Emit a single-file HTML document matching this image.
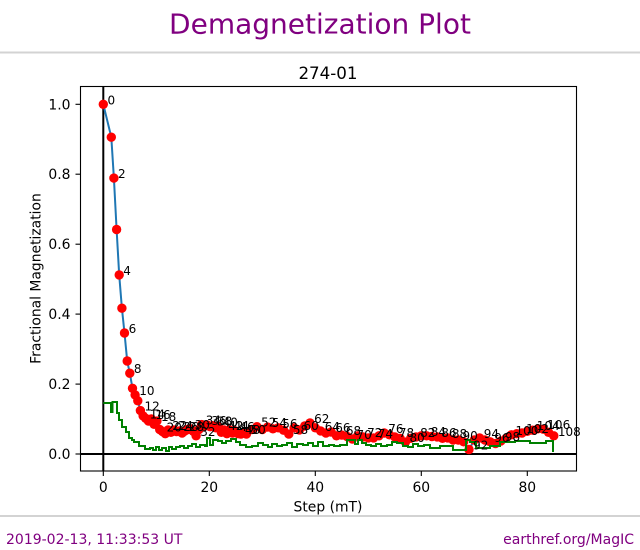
<!DOCTYPE html>
<html><head><meta charset="utf-8"><style>
html,body{margin:0;padding:0;background:#fff;width:640px;height:550px;overflow:hidden}
svg{display:block}
text{font-family:"DejaVu Sans","Liberation Sans",sans-serif}
</style></head><body>
<svg width="640" height="550" viewBox="0 0 640 550" xmlns="http://www.w3.org/2000/svg">
<rect x="0" y="0" width="640" height="550" fill="#fff"/>
<text x="320" y="33.5" font-size="28" fill="#800080" text-anchor="middle">Demagnetization Plot</text>
<rect x="0" y="51.5" width="640" height="2" fill="#d3d3d3"/>
<rect x="0" y="515" width="640" height="2" fill="#d3d3d3"/>
<text x="6" y="544" font-size="14" fill="#800080">2019-02-13, 11:33:53 UT</text>
<text x="634" y="544" font-size="14" fill="#800080" text-anchor="end">earthref.org/MagIC</text>

<text x="328" y="79" font-size="16.7" fill="#000" text-anchor="middle">274-01</text>

<!-- axes frame -->
<rect x="80.5" y="86.5" width="496" height="384.5" fill="none" stroke="#000" stroke-width="1.1"/>
<!-- zero lines -->
<line x1="103.3" y1="86.5" x2="103.3" y2="471" stroke="#000" stroke-width="2"/>
<line x1="80.5" y1="454" x2="576.5" y2="454" stroke="#000" stroke-width="2"/>

<!-- ticks -->
<g stroke="#000" stroke-width="1.1">
<line x1="75.5" y1="454" x2="80.5" y2="454"/>
<line x1="75.5" y1="384.1" x2="80.5" y2="384.1"/>
<line x1="75.5" y1="314.1" x2="80.5" y2="314.1"/>
<line x1="75.5" y1="244.2" x2="80.5" y2="244.2"/>
<line x1="75.5" y1="174.2" x2="80.5" y2="174.2"/>
<line x1="75.5" y1="104.3" x2="80.5" y2="104.3"/>
<line x1="103.3" y1="471" x2="103.3" y2="476"/>
<line x1="209.3" y1="471" x2="209.3" y2="476"/>
<line x1="315.3" y1="471" x2="315.3" y2="476"/>
<line x1="421.3" y1="471" x2="421.3" y2="476"/>
<line x1="527.3" y1="471" x2="527.3" y2="476"/>
</g>
<g font-size="13.9" fill="#000" text-anchor="end">
<text x="70.5" y="459">0.0</text>
<text x="70.5" y="389.1">0.2</text>
<text x="70.5" y="319.1">0.4</text>
<text x="70.5" y="249.2">0.6</text>
<text x="70.5" y="179.2">0.8</text>
<text x="70.5" y="109.3">1.0</text>
</g>
<g font-size="13.9" fill="#000" text-anchor="middle">
<text x="103.3" y="492">0</text>
<text x="209.3" y="492">20</text>
<text x="315.3" y="492">40</text>
<text x="421.3" y="492">60</text>
<text x="527.3" y="492">80</text>
<text x="328" y="511.5">Step (mT)</text>
<text transform="translate(40.5,278.5) rotate(-90)">Fractional Magnetization</text>
</g>

<!-- blue line -->
<polyline fill="none" stroke="#1f77b4" stroke-width="2" stroke-linejoin="round" points="103.3,104.3 111.3,137.2 113.9,178.1 116.6,229.5 119.2,274.9 121.9,308.2 124.5,333.0 127.2,361.0 129.8,373.2 132.5,388.3 135.1,394.9 137.8,400.8 140.4,410.6 143.1,415.9 145.7,418.3 148.5,421.1 151.3,419.0 154.1,424.3 156.9,421.1 159.7,429.5 162.5,431.6 165.3,433.7 168.1,429.9 170.9,432.3 173.7,429.9 176.5,431.6 179.3,430.9 182.1,433.0 184.9,430.9 187.7,429.5 190.5,428.8 193.3,431.3 196.1,435.8 198.9,429.5 201.7,424.6 204.5,426.0 207.3,425.0 210.1,426.7 212.9,425.7 215.7,427.8 218.5,426.7 221.3,432.3 224.1,429.9 226.9,433.7 229.7,429.9 232.5,433.0 235.3,430.9 238.1,433.7 240.9,434.1 243.7,433.0 246.4,434.1 251.7,429.5 257.0,426.7 262.3,429.5 267.6,427.1 272.9,428.8 278.2,427.8 283.5,430.2 288.8,434.1 294.1,427.8 299.4,429.9 304.7,426.0 310.0,422.9 315.3,427.8 320.6,430.9 325.9,433.0 331.2,432.0 336.5,435.8 341.8,435.1 347.1,436.5 352.4,439.0 357.7,435.8 363.0,436.9 368.3,437.9 373.6,437.9 378.9,435.8 384.2,433.0 389.5,434.8 394.8,436.9 400.1,438.3 405.4,442.1 410.7,438.3 416.0,436.9 421.3,435.8 426.6,435.8 431.9,436.5 437.2,436.9 442.5,438.3 447.8,437.9 453.1,440.0 458.4,440.0 463.7,441.8 469.0,449.5 474.3,440.0 479.6,437.9 484.9,440.0 490.2,441.8 495.5,443.5 500.8,441.1 506.1,438.3 511.4,434.8 516.7,433.7 522.0,433.0 527.3,431.3 532.6,430.2 537.9,428.8 543.2,429.2 548.5,432.3 553.8,435.8"/>

<!-- red markers -->
<g fill="#ff0000">
<circle cx="103.3" cy="104.3" r="4.7"/><circle cx="111.3" cy="137.2" r="4.7"/><circle cx="113.9" cy="178.1" r="4.7"/><circle cx="116.6" cy="229.5" r="4.7"/><circle cx="119.2" cy="274.9" r="4.7"/><circle cx="121.9" cy="308.2" r="4.7"/><circle cx="124.5" cy="333.0" r="4.7"/><circle cx="127.2" cy="361.0" r="4.7"/><circle cx="129.8" cy="373.2" r="4.7"/><circle cx="132.5" cy="388.3" r="4.7"/>
<circle cx="135.1" cy="394.9" r="4.7"/><circle cx="137.8" cy="400.8" r="4.7"/><circle cx="140.4" cy="410.6" r="4.7"/><circle cx="143.1" cy="415.9" r="4.7"/><circle cx="145.7" cy="418.3" r="4.7"/><circle cx="148.5" cy="421.1" r="4.7"/><circle cx="151.3" cy="419.0" r="4.7"/><circle cx="154.1" cy="424.3" r="4.7"/><circle cx="156.9" cy="421.1" r="4.7"/><circle cx="159.7" cy="429.5" r="4.7"/>
<circle cx="162.5" cy="431.6" r="4.7"/><circle cx="165.3" cy="433.7" r="4.7"/><circle cx="168.1" cy="429.9" r="4.7"/><circle cx="170.9" cy="432.3" r="4.7"/><circle cx="173.7" cy="429.9" r="4.7"/><circle cx="176.5" cy="431.6" r="4.7"/><circle cx="179.3" cy="430.9" r="4.7"/><circle cx="182.1" cy="433.0" r="4.7"/><circle cx="184.9" cy="430.9" r="4.7"/><circle cx="187.7" cy="429.5" r="4.7"/>
<circle cx="190.5" cy="428.8" r="4.7"/><circle cx="193.3" cy="431.3" r="4.7"/><circle cx="196.1" cy="435.8" r="4.7"/><circle cx="198.9" cy="429.5" r="4.7"/><circle cx="201.7" cy="424.6" r="4.7"/><circle cx="204.5" cy="426.0" r="4.7"/><circle cx="207.3" cy="425.0" r="4.7"/><circle cx="210.1" cy="426.7" r="4.7"/><circle cx="212.9" cy="425.7" r="4.7"/><circle cx="215.7" cy="427.8" r="4.7"/>
<circle cx="218.5" cy="426.7" r="4.7"/><circle cx="221.3" cy="432.3" r="4.7"/><circle cx="224.1" cy="429.9" r="4.7"/><circle cx="226.9" cy="433.7" r="4.7"/><circle cx="229.7" cy="429.9" r="4.7"/><circle cx="232.5" cy="433.0" r="4.7"/><circle cx="235.3" cy="430.9" r="4.7"/><circle cx="238.1" cy="433.7" r="4.7"/><circle cx="240.9" cy="434.1" r="4.7"/><circle cx="243.7" cy="433.0" r="4.7"/>
<circle cx="246.4" cy="434.1" r="4.7"/><circle cx="251.7" cy="429.5" r="4.7"/><circle cx="257.0" cy="426.7" r="4.7"/><circle cx="262.3" cy="429.5" r="4.7"/><circle cx="267.6" cy="427.1" r="4.7"/><circle cx="272.9" cy="428.8" r="4.7"/><circle cx="278.2" cy="427.8" r="4.7"/><circle cx="283.5" cy="430.2" r="4.7"/><circle cx="288.8" cy="434.1" r="4.7"/><circle cx="294.1" cy="427.8" r="4.7"/>
<circle cx="299.4" cy="429.9" r="4.7"/><circle cx="304.7" cy="426.0" r="4.7"/><circle cx="310.0" cy="422.9" r="4.7"/><circle cx="315.3" cy="427.8" r="4.7"/><circle cx="320.6" cy="430.9" r="4.7"/><circle cx="325.9" cy="433.0" r="4.7"/><circle cx="331.2" cy="432.0" r="4.7"/><circle cx="336.5" cy="435.8" r="4.7"/><circle cx="341.8" cy="435.1" r="4.7"/><circle cx="347.1" cy="436.5" r="4.7"/>
<circle cx="352.4" cy="439.0" r="4.7"/><circle cx="357.7" cy="435.8" r="4.7"/><circle cx="363.0" cy="436.9" r="4.7"/><circle cx="368.3" cy="437.9" r="4.7"/><circle cx="373.6" cy="437.9" r="4.7"/><circle cx="378.9" cy="435.8" r="4.7"/><circle cx="384.2" cy="433.0" r="4.7"/><circle cx="389.5" cy="434.8" r="4.7"/><circle cx="394.8" cy="436.9" r="4.7"/><circle cx="400.1" cy="438.3" r="4.7"/>
<circle cx="405.4" cy="442.1" r="4.7"/><circle cx="410.7" cy="438.3" r="4.7"/><circle cx="416.0" cy="436.9" r="4.7"/><circle cx="421.3" cy="435.8" r="4.7"/><circle cx="426.6" cy="435.8" r="4.7"/><circle cx="431.9" cy="436.5" r="4.7"/><circle cx="437.2" cy="436.9" r="4.7"/><circle cx="442.5" cy="438.3" r="4.7"/><circle cx="447.8" cy="437.9" r="4.7"/><circle cx="453.1" cy="440.0" r="4.7"/>
<circle cx="458.4" cy="440.0" r="4.7"/><circle cx="463.7" cy="441.8" r="4.7"/><circle cx="469.0" cy="449.5" r="4.7"/><circle cx="474.3" cy="440.0" r="4.7"/><circle cx="479.6" cy="437.9" r="4.7"/><circle cx="484.9" cy="440.0" r="4.7"/><circle cx="490.2" cy="441.8" r="4.7"/><circle cx="495.5" cy="443.5" r="4.7"/><circle cx="500.8" cy="441.1" r="4.7"/><circle cx="506.1" cy="438.3" r="4.7"/>
<circle cx="511.4" cy="434.8" r="4.7"/><circle cx="516.7" cy="433.7" r="4.7"/><circle cx="522.0" cy="433.0" r="4.7"/><circle cx="527.3" cy="431.3" r="4.7"/><circle cx="532.6" cy="430.2" r="4.7"/><circle cx="537.9" cy="428.8" r="4.7"/><circle cx="543.2" cy="429.2" r="4.7"/><circle cx="548.5" cy="432.3" r="4.7"/><circle cx="553.8" cy="435.8" r="4.7"/>
</g>

<!-- green step line -->
<path fill="none" stroke="#008000" stroke-width="2" d="M103.3,403 H111 V412 H112.5 V402 H117 V413 H119 V420 H122 V427 H126 V432 H129 V438 H132 V440 H134 V442 H139 V446 H145 V449 H150 V448 H153 V450 H156 V447 H159 V450 H162 V448 H166 V451 H169 V447 H172 V449 H176 V447 H180 V446 H184 V448 H188 V446 H192 V444 H196 V447 H200 V445 H205 V446 H207 V438 H210 V445 H213 V440 H218 V441 H222 V443 H226 V441 H231 V439 H236 V442 H240 V445 H246 V447 H252 V446 H258 V443 H263 V445 H268 V447 H272 V444 H277 V446 H282 V445 H287 V443 H292 V447 H297 V444 H303 V445 H308 V443 H313 V446 H318 V442 H323 V446 H329 V445 H334 V446 H340 V445 H347 V440 H355 V444 H358 V440 H362 V443 H366 V445 H371 V446 H376 V444 H381 V446 H387 V445 H392 V442 H397 V443 H403 V446 H408 V447 H413 V444 H418 V446 H424 V445 H430 V448 H440 V446 H453 V450 H466 V440 H470 V442 H476 V448 H490 V446 H500 V442 H515 V441 H530 V443 H546 V441 H553 V452"/>

<!-- index labels -->
<g font-size="12" fill="#000">
<text x="107.5" y="104.3">0</text><text x="118" y="178.1">2</text><text x="123.3" y="274.9">4</text><text x="128.6" y="333.0">6</text><text x="133.9" y="373.2">8</text>
<text x="139.2" y="394.9">10</text><text x="144.5" y="410.6">12</text><text x="149.8" y="418.3">14</text><text x="155.4" y="419.0">16</text><text x="161" y="421.1">18</text>
<text x="166.6" y="431.6">20</text><text x="172.2" y="429.9">22</text><text x="177.8" y="429.9">24</text><text x="183.4" y="430.9">26</text><text x="189" y="430.9">28</text>
<text x="194.6" y="428.8">30</text><text x="200.2" y="435.8">32</text><text x="205.8" y="424.6">34</text><text x="211.4" y="425.0">36</text><text x="217" y="425.7">38</text>
<text x="222.6" y="426.7">40</text><text x="228.2" y="429.9">42</text><text x="233.8" y="429.9">44</text><text x="239.4" y="430.9">46</text><text x="245" y="434.1">48</text>
<text x="250.5" y="434.1">50</text><text x="261.1" y="426.7">52</text><text x="271.7" y="427.1">54</text><text x="282.3" y="427.8">56</text><text x="292.9" y="434.1">58</text>
<text x="303.5" y="429.9">60</text><text x="314.1" y="422.9">62</text><text x="324.7" y="430.9">64</text><text x="335.3" y="432.0">66</text><text x="345.9" y="435.1">68</text>
<text x="356.5" y="439.0">70</text><text x="367.1" y="436.9">72</text><text x="377.7" y="437.9">74</text><text x="388.3" y="433.0">76</text><text x="398.9" y="436.9">78</text>
<text x="409.5" y="442.1">80</text><text x="420.1" y="436.9">82</text><text x="430.7" y="435.8">84</text><text x="441.3" y="436.9">86</text><text x="451.9" y="437.9">88</text>
<text x="462.5" y="440.0">90</text><text x="473.1" y="449.5">92</text><text x="483.7" y="437.9">94</text><text x="494.3" y="441.8">96</text><text x="504.9" y="441.1">98</text>
<text x="515.5" y="434.8">100</text><text x="526.1" y="433.0">102</text><text x="536.7" y="430.2">104</text><text x="547.3" y="429.2">106</text><text x="557.9" y="435.8">108</text>
</g>
</svg>
</body></html>
